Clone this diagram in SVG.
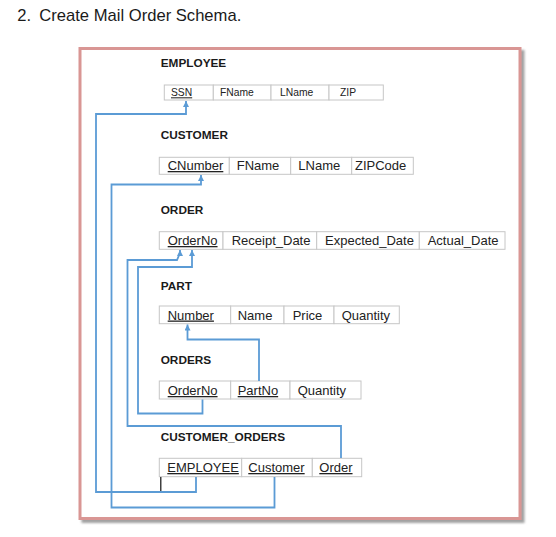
<svg xmlns="http://www.w3.org/2000/svg" width="556" height="537" viewBox="0 0 556 537">
<defs>
<style>
.title{font-family:"Liberation Sans",Arial,sans-serif;font-size:16.6px;fill:#1a1a1a}
.lbl{font-family:"Liberation Sans",Arial,sans-serif;font-size:11.8px;font-weight:bold;fill:#1a1a1a}
.cell{fill:#ffffff;stroke:#c6c6c6;stroke-width:1}
.t{font-family:"Liberation Sans",Arial,sans-serif;font-size:13px;fill:#222}
.ts{font-family:"Liberation Sans",Arial,sans-serif;font-size:10.3px;fill:#222}
.u{text-decoration:underline}
.conn{fill:none;stroke:#5b9bd5;stroke-width:1.8}
</style>
<marker id="arr" markerUnits="userSpaceOnUse" markerWidth="7" markerHeight="6" refX="6" refY="3" orient="auto">
<path d="M0,0 L6,3 L0,6 z" fill="#5b9bd5"/>
</marker>
<filter id="sh" x="-5%" y="-5%" width="115%" height="115%">
<feDropShadow dx="3" dy="3" stdDeviation="1.2" flood-color="#7a7a7a" flood-opacity="0.7"/>
</filter>
</defs>
<rect width="556" height="537" fill="#ffffff"/>
<text class="title" x="17.3" y="21">2.<tspan x="39.3">Create Mail Order Schema.</tspan></text>
<rect x="80" y="48.5" width="440" height="470" fill="#ffffff" stroke="#d99694" stroke-width="3" filter="url(#sh)"/>

<g id="employee">
<text class="lbl" x="160.7" y="67">EMPLOYEE</text>
<rect class="cell" x="164.3" y="85" width="49" height="15"/>
<rect class="cell" x="213.3" y="85" width="57.7" height="15"/>
<rect class="cell" x="271" y="85" width="58" height="15"/>
<rect class="cell" x="329" y="85" width="54.3" height="15"/>
<text class="ts u" x="171" y="96.3">SSN</text>
<text class="ts" x="220" y="96.3">FName</text>
<text class="ts" x="280" y="96.3">LName</text>
<text class="ts" x="340" y="96.3">ZIP</text>
</g>

<g id="customer">
<text class="lbl" x="160.7" y="139.3">CUSTOMER</text>
<rect class="cell" x="159.3" y="157.3" width="70" height="17"/>
<rect class="cell" x="229.3" y="157.3" width="61.4" height="17"/>
<rect class="cell" x="290.7" y="157.3" width="61" height="17"/>
<rect class="cell" x="351.7" y="157.3" width="61.6" height="17"/>
<text class="t u" x="167.7" y="170">CNumber</text>
<text class="t" x="236.7" y="170">FName</text>
<text class="t" x="298.3" y="170">LName</text>
<text class="t" x="355" y="170">ZIPCode</text>
</g>

<g id="order">
<text class="lbl" x="160.7" y="214">ORDER</text>
<rect class="cell" x="159.3" y="231.7" width="63.7" height="17.6"/>
<rect class="cell" x="223" y="231.7" width="93.7" height="17.6"/>
<rect class="cell" x="316.7" y="231.7" width="102.6" height="17.6"/>
<rect class="cell" x="419.3" y="231.7" width="85.7" height="17.6"/>
<text class="t u" x="167.7" y="245">OrderNo</text>
<text class="t" x="231.7" y="245">Receipt_Date</text>
<text class="t" x="325" y="245">Expected_Date</text>
<text class="t" x="427.7" y="245">Actual_Date</text>
</g>

<g id="part">
<text class="lbl" x="160.7" y="290">PART</text>
<rect class="cell" x="159.3" y="306" width="71.4" height="17.7"/>
<rect class="cell" x="230.7" y="306" width="53.3" height="17.7"/>
<rect class="cell" x="284" y="306" width="50" height="17.7"/>
<rect class="cell" x="334" y="306" width="65.3" height="17.7"/>
<text class="t u" x="167.7" y="319.5">Number</text>
<text class="t" x="237.7" y="319.5">Name</text>
<text class="t" x="292.7" y="319.5">Price</text>
<text class="t" x="341.7" y="319.5">Quantity</text>
</g>

<g id="orders">
<text class="lbl" x="160.7" y="364">ORDERS</text>
<rect class="cell" x="159.3" y="381" width="71.4" height="18"/>
<rect class="cell" x="230.7" y="381" width="59.3" height="18"/>
<rect class="cell" x="290" y="381" width="71" height="18"/>
<text class="t u" x="167.7" y="395">OrderNo</text>
<text class="t u" x="237.7" y="395">PartNo</text>
<text class="t" x="297.7" y="395">Quantity</text>
</g>

<g id="customer_orders">
<text class="lbl" x="160.7" y="440.7">CUSTOMER_ORDERS</text>
<rect class="cell" x="159.3" y="458.3" width="82.4" height="18.4"/>
<rect class="cell" x="241.7" y="458.3" width="70.6" height="18.4"/>
<rect class="cell" x="312.3" y="458.3" width="49.4" height="18.4"/>
<text class="t u" x="167.3" y="472">EMPLOYEE</text>
<text class="t u" x="248.3" y="472">Customer</text>
<text class="t u" x="319.3" y="472">Order</text>
</g>

<g id="connectors">
<path class="conn" d="M196,477 V492 H96 V114 H186 V101" marker-end="url(#arr)"/>
<path class="conn" d="M274.5,477 V507.5 H111.5 V184.5 H201 V175" marker-end="url(#arr)"/>
<path class="conn" d="M202.5,399.5 V413.5 H138 V267 H192 V250" marker-end="url(#arr)"/>
<path class="conn" d="M341,458 V426 H127.5 V260 H177 L180,253 V250" marker-end="url(#arr)"/>
<path class="conn" d="M259,381 V339.5 H187.5 V324.5" marker-end="url(#arr)"/>
<line x1="160.8" y1="477" x2="160.8" y2="491" stroke="#111" stroke-width="1.2"/>
</g>
</svg>
